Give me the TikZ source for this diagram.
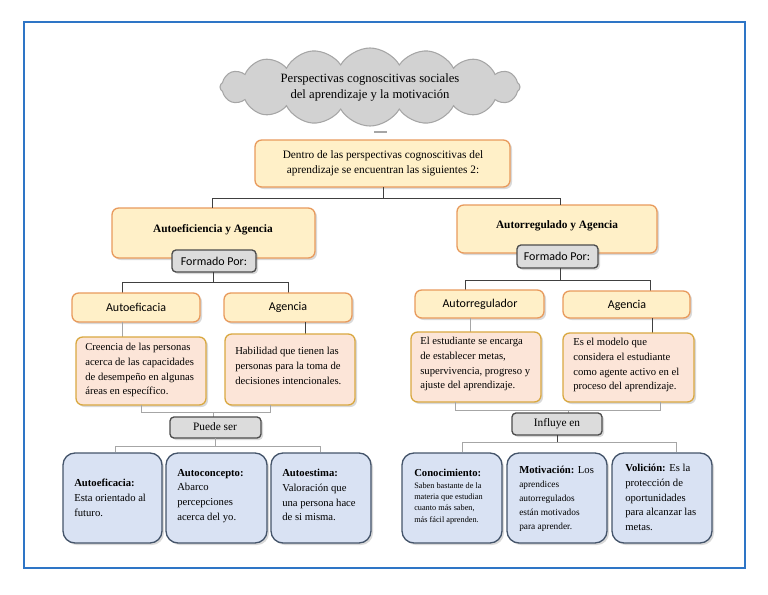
\documentclass[tikz,border=0pt]{standalone}
\usepackage{fontspec}
\setmainfont{Liberation Serif}
\newfontfamily\sansf{Carlito}
\usetikzlibrary{shapes.symbols,shadows}
\definecolor{yfill}{HTML}{FFF0C8}
\definecolor{ydraw}{HTML}{E89A5C}
\definecolor{pfill}{HTML}{FCE5D8}
\definecolor{pdraw}{HTML}{D9A840}
\definecolor{gfill}{HTML}{DCDCDC}
\definecolor{bfill}{HTML}{D9E2F3}
\definecolor{bdraw}{HTML}{44546A}
\definecolor{frame}{HTML}{2E75C6}
\begin{document}
\begin{tikzpicture}[x=0.75pt,y=-0.75pt,
 box/.style={draw, rounded corners=5pt, line width=1pt, drop shadow={opacity=0.3,shadow xshift=1.5pt,shadow yshift=-1.5pt}},
 hd/.style={box, fill=yfill, draw=ydraw},
 ds/.style={box, fill=pfill, draw=pdraw},
 gr/.style={box, rounded corners=3pt, fill=gfill, draw=black!70},
 bl/.style={box, rounded corners=9pt, fill=bfill, draw=bdraw},
 ln/.style={draw=black!75, line width=0.7pt},
 lnl/.style={draw=black!35, line width=0.7pt},
 txt/.style={align=flush left, anchor=north west, inner sep=0pt, font=\fontsize{8pt}{11pt}\selectfont, text width=#1}]
\useasboundingbox (0,0) rectangle (768,594);
\draw[frame, line width=1pt] (24,22) rectangle (745,568);
% cloud
\node[cloud, cloud puffs=16, cloud puff arc=120, aspect=5, inner sep=0pt, minimum width=225pt, minimum height=46pt, fill=gray!35, draw=gray!70, line width=0.8pt, align=center, font=\fontsize{9.5pt}{12pt}\selectfont] (cl) at (370,87) {Perspectivas cognoscitivas sociales\\del aprendizaje y la motivación};
\draw[gray!70, line width=1.5pt] (374,132) -- (387,132);
% boxes
\path[hd] (255,140) rectangle (510,187); \node[align=center,font=\fontsize{8.5pt}{11pt}\selectfont] (top) at (383,163) {Dentro de las perspectivas cognoscitivas del\\aprendizaje se encuentran las siguientes 2:};
\path[hd] (112,208) rectangle (315,258); \node[font=\bfseries\fontsize{8.5pt}{11pt}\selectfont] (hl) at (213,230) {Autoeficiencia y Agencia};
\path[hd] (457,205) rectangle (657,253); \node[font=\bfseries\fontsize{8.5pt}{11pt}\selectfont] (hr) at (557,226) {Autorregulado y Agencia};
\draw[ln] (383,187) -- (383,198) (212,198) -- (560,198) (212,198) -- (212,208) (560,198) -- (560,205);
\path[gr] (172,250) rectangle (256,272); \node[font=\sansf\fontsize{9pt}{10pt}\selectfont] (fl) at (214,261) {Formado Por:};
\path[gr] (517,245) rectangle (598,268); \node[font=\sansf\fontsize{9pt}{10pt}\selectfont] (fr) at (557,256) {Formado Por:};
\draw[ln] (213,272) -- (213,282) (122,282) -- (288,282) (122,282) -- (122,293) (288,282) -- (288,293);
\draw[ln] (560,268) -- (560,280) (465,280) -- (650,280) (465,280) -- (465,290) (650,280) -- (650,291);
\path[hd] (72,293) rectangle (200,322); \node[font=\sansf\fontsize{9pt}{10pt}\selectfont] (a1) at (136,307) {Autoeficacia};
\path[hd] (224,293) rectangle (352,322); \node[font=\sansf\fontsize{9pt}{10pt}\selectfont] (a2) at (288,307) {Agencia};
\path[hd] (415,290) rectangle (544,318); \node[font=\sansf\fontsize{9pt}{10pt}\selectfont] (a3) at (480,304) {Autorregulador};
\path[hd] (563,291) rectangle (690,318); \node[font=\sansf\fontsize{9pt}{10pt}\selectfont] (a4) at (627,305) {Agencia};
\draw[lnl] (122,322) -- (122,337); \draw[ln] (305,322) -- (305,334);
\draw[lnl] (470,318) -- (470,332); \draw[ln] (652,318) -- (652,333);
\path[ds] (76,337) rectangle (206,405); \node[txt=90pt] (d1) at (85,343) {Creencia de las personas acerca de las capacidades de desempeño en algunas áreas en específico.};
\path[ds] (225,334) rectangle (355,405); \node[txt=90pt] (d2) at (235,347) {Habilidad que tienen las personas para la toma de decisiones intencionales.};
\path[ds] (411,332) rectangle (541,402); \node[txt=90pt] (d3) at (420,337) {El estudiante se encarga\\de establecer metas, supervivencia, progreso y ajuste del aprendizaje.};
\path[ds] (563,333) rectangle (694,402); \node[txt=86pt] (d4) at (573,338) {Es el modelo que considera el estudiante como agente activo en el proceso del aprendizaje.};
% bracket left
\draw[lnl] (141,405) -- (141,412) -- (270,412) -- (270,405) (213,412) -- (213,417);
\path[gr] (170,417) rectangle (261,438); \node[font=\fontsize{8.5pt}{10pt}\selectfont] (ps) at (215,427) {Puede ser};
\draw[lnl] (215,438) -- (215,446) (115,446) -- (320,446) (115,446) -- (115,452) (320,446) -- (320,452);
\draw[lnl] (455,402) -- (455,410) -- (660,410) -- (660,402) (568,410) -- (568,413);
\path[gr] (512,413) rectangle (602,435); \node[font=\fontsize{8.5pt}{10pt}\selectfont] (ie) at (557,424) {Influye en};
\draw[ln] (557,435) -- (557,442); \draw[lnl] (462,442) -- (676,442) (462,442) -- (462,452) (676,442) -- (676,452);
% bottom
\path[bl] (63,453) rectangle (162,543); \node[txt=64pt] (b1) at (74,479) {\textbf{Autoeficacia:}\\Esta orientado al\\futuro.};
\path[bl] (166,453) rectangle (267,543); \node[txt=64pt] (b2) at (177,469) {\textbf{Autoconcepto:}\\Abarco\\percepciones\\acerca del yo.};
\path[bl] (271,453) rectangle (371,543); \node[txt=64pt] (b3) at (282,469) {\textbf{Autoestima:}\\Valoración que\\una persona hace\\de si misma.};
\path[bl] (402,453) rectangle (502,543); \node[txt=66pt, font=\fontsize{6.2pt}{8.5pt}\selectfont] (b4) at (414,469) {{\fontsize{8pt}{11pt}\selectfont\textbf{Conocimiento:}}\\Saben bastante de la\\materia que estudian\\cuanto más saben,\\más fácil aprenden.};
\path[bl] (507,453) rectangle (607,543); \node[txt=66pt, font=\fontsize{7pt}{10.5pt}\selectfont] (b5) at (519,466) {{\fontsize{8pt}{11pt}\selectfont\textbf{Motivación:} Los}\\aprendices\\autorregulados\\están motivados\\para aprender.};
\path[bl] (612,453) rectangle (712,543); \node[txt=66pt, font=\fontsize{8pt}{11pt}\selectfont] (b6) at (625,464) {\textbf{Volición:} Es la\\protección de\\oportunidades\\para alcanzar las\\metas.};
\end{tikzpicture}
\end{document}
